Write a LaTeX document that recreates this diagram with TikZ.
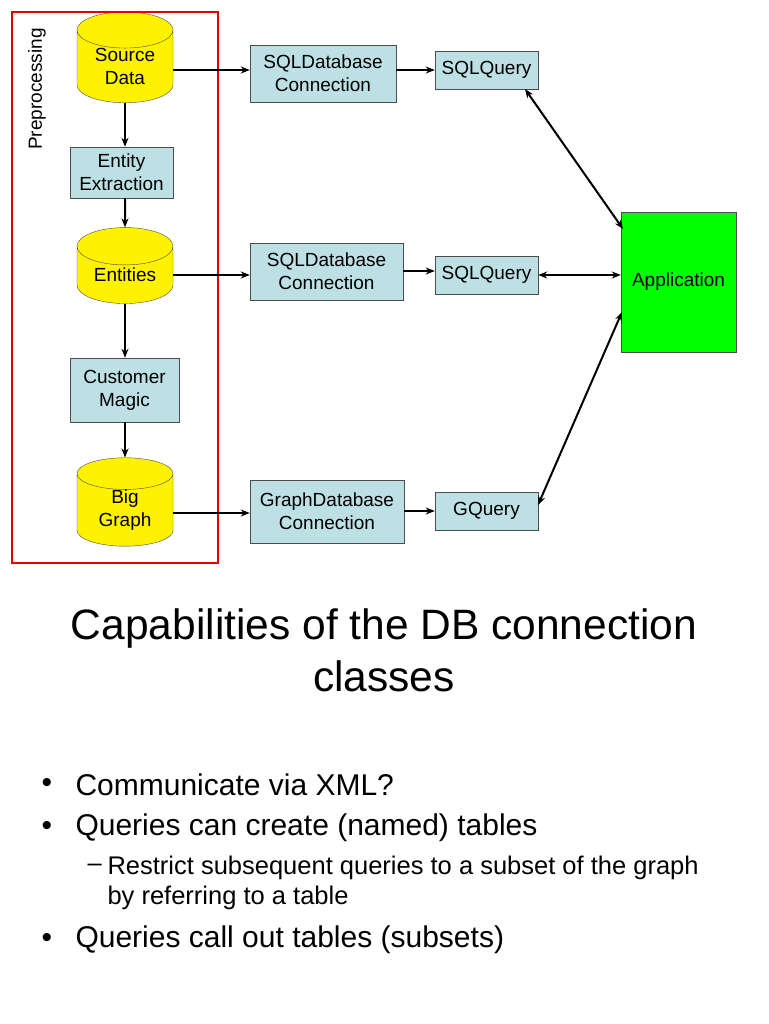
\documentclass[tikz,border=0pt]{standalone}
\usepackage{fontspec}
\setmainfont{Liberation Sans}
\usetikzlibrary{shapes.geometric,arrows.meta}
\begin{document}
\begin{tikzpicture}[x=1pt,y=-1pt,
  box/.style={draw=black!70,fill={rgb,255:red,189;green,224;blue,229},align=center,font=\fontsize{19}{23}\selectfont,inner sep=0pt},
  db/.style={cylinder,shape border rotate=90,aspect=0.6,draw=black!70,fill=yellow,align=center,font=\fontsize{19}{23}\selectfont,minimum width=96pt,inner sep=0pt},
  arr/.style={line width=2pt,-{Stealth[length=9pt,width=7pt]}},
  darr/.style={line width=2pt,{Stealth[length=9pt,width=7pt]}-{Stealth[length=9pt,width=7pt]}}]
\useasboundingbox (0,0) rectangle (768,1024);
\node[db,minimum height=83pt] (src) at (125,66.5) {Source\\Data};
\node[box,minimum width=103pt,minimum height=51pt] (ee) at (121.5,172.5) {Entity\\Extraction};
\node[db,minimum height=76pt] (ent) at (125,275) {Entities};
\node[box,minimum width=109pt,minimum height=64pt] (cm) at (124.5,390) {Customer\\Magic};
\node[db,minimum height=86pt] (bg) at (125,510) {Big\\Graph};
\draw[red!90!black,line width=2.5pt] (12,12) rectangle (218,563);
\node[rotate=90,font=\fontsize{19}{22}\selectfont] (pre) at (37,89) {Preprocessing};
\node[box,minimum width=146pt,minimum height=57pt] (c1) at (323,73.5) {SQLDatabase\\Connection};
\node[box,minimum width=153pt,minimum height=57pt] (c2) at (326.5,271.5) {SQLDatabase\\Connection};
\node[box,minimum width=154pt,minimum height=63pt] (c3) at (327,511.5) {GraphDatabase\\Connection};
\node[box,minimum width=103pt,minimum height=38pt] (q1) at (486.5,70) {SQLQuery};
\node[box,minimum width=103pt,minimum height=38pt] (q2) at (486.5,275) {SQLQuery};
\node[box,minimum width=103pt,minimum height=38pt] (q3) at (486.5,511) {GQuery};
\node[draw=black!70,fill={rgb,255:red,0;green,255;blue,0},minimum width=115pt,minimum height=140pt,font=\fontsize{19}{23}\selectfont] (app) at (678.5,282) {Application};
\draw[arr] (src.south) -- (src.south|-ee.north);
\draw[arr] (ee.south-|src.south) -- (ent.north);
\draw[arr] (ent.south) -- (ent.south|-cm.north);
\draw[arr] (cm.south-|bg.north) -- (bg.north);
\draw[arr] (src.east|-0,70) -- (c1.west|-0,70);
\draw[arr] (ent.east|-0,275) -- (c2.west|-0,275);
\draw[arr] (bg.east|-0,513) -- (c3.west|-0,513);
\draw[arr] (c1.east|-0,70) -- (q1.west|-0,70);
\draw[arr] (c2.east|-0,271) -- (q2.west|-0,271);
\draw[arr] (c3.east|-0,511) -- (q3.west|-0,511);
\draw[darr] (525,89) -- (623,229);
\draw[darr] (q2.east) -- (app.west|-q2.east);
\draw[darr] (538,505) -- (622,312);
\node[font=\fontsize{42.5}{52}\selectfont,align=center] (title) at (384,650) {Capabilities of the DB connection\\classes};
\begin{scope}[every node/.style={anchor=west}]
\node[font=\fontsize{30}{34}\selectfont] (b0) at (38,785) {•};
\node[font=\fontsize{30}{34}\selectfont] (t0) at (72,785) {Communicate via XML?};
\node[font=\fontsize{30}{34}\selectfont] (b1) at (38,828) {•};
\node[font=\fontsize{30}{34}\selectfont] (t1) at (72,828) {Queries can create (named) tables};
\node[font=\fontsize{25.5}{30}\selectfont] (b2) at (84,868) {–};
\node[font=\fontsize{25.5}{30}\selectfont,align=left] (t2) at (104,883) {Restrict subsequent queries to a subset of the graph\\by referring to a table};
\node[font=\fontsize{30}{34}\selectfont] (b3) at (38,940) {•};
\node[font=\fontsize{30}{34}\selectfont] (t3) at (72,940) {Queries call out tables (subsets)};
\end{scope}
\end{tikzpicture}
\end{document}
